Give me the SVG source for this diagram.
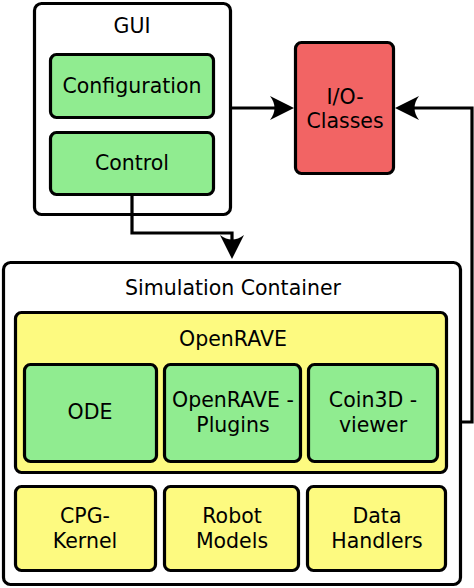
<svg xmlns="http://www.w3.org/2000/svg" width="474" height="588" viewBox="0 0 474 588">
<style>
.box{stroke:#000;stroke-width:3.2}
.w{fill:#fff}
.g{fill:#90ec90}
.y{fill:#fdfa80}
.r{fill:#f26464}
text{font-family:"DejaVu Sans",sans-serif;font-size:20.5px;text-anchor:middle;fill:#000}
.c{fill:none;stroke:#000;stroke-width:3.2}
.ah{fill:#000;stroke:none}
</style>
<defs>
<path id="arrow" d="M0,0 L-24,-12 C-18,-4 -18,4 -24,12 Z"/>
</defs>
<rect width="474" height="588" fill="#fff"/>
<g id="gui">
<rect class="box w" x="34.5" y="3.5" width="196" height="211" rx="7"/>
<text x="132" y="33">GUI</text>
</g>
<g id="configuration">
<rect class="box g" x="50.5" y="54.5" width="163" height="63" rx="6"/>
<text x="132" y="93">Configuration</text>
</g>
<g id="control">
<rect class="box g" x="50.5" y="132.5" width="163" height="62" rx="6"/>
<text x="132" y="170">Control</text>
</g>
<g id="io-classes">
<rect class="box r" x="295.5" y="42.5" width="98" height="131" rx="6"/>
<text x="345" y="104">I/O-</text>
<text x="345" y="128">Classes</text>
</g>
<g id="simulation-container">
<rect class="box w" x="3.5" y="262.5" width="457" height="322" rx="7"/>
<text x="233" y="295">Simulation Container</text>
</g>
<g id="openrave">
<rect class="box y" x="15.5" y="312.5" width="431" height="160" rx="6"/>
<text x="233" y="346">OpenRAVE</text>
</g>
<g id="ode">
<rect class="box g" x="24.5" y="364.5" width="132" height="97" rx="6"/>
<text x="90" y="419">ODE</text>
</g>
<g id="openrave-plugins">
<rect class="box g" x="164.5" y="364.5" width="136" height="97" rx="6"/>
<text x="233" y="407">OpenRAVE -</text>
<text x="233" y="432">Plugins</text>
</g>
<g id="coin3d-viewer">
<rect class="box g" x="308.5" y="364.5" width="129" height="97" rx="6"/>
<text x="373" y="407">Coin3D -</text>
<text x="373" y="432">viewer</text>
</g>
<g id="cpg-kernel">
<rect class="box y" x="15.5" y="486.5" width="140" height="84" rx="6"/>
<text x="85" y="523">CPG-</text>
<text x="85" y="548">Kernel</text>
</g>
<g id="robot-models">
<rect class="box y" x="164.5" y="486.5" width="134" height="84" rx="6"/>
<text x="232" y="523">Robot</text>
<text x="232" y="548">Models</text>
</g>
<g id="data-handlers">
<rect class="box y" x="307.5" y="486.5" width="138" height="84" rx="6"/>
<text x="377" y="523">Data</text>
<text x="377" y="548">Handlers</text>
</g>
<g id="connectors">
<path class="c" d="M230,108 H280"/>
<use href="#arrow" class="ah" transform="translate(294,108)"/>
<path class="c" d="M460,422 H472 V108 H408"/>
<use href="#arrow" class="ah" transform="translate(395,108) rotate(180)"/>
<path class="c" d="M132,194 V233 H232 V245"/>
<use href="#arrow" class="ah" transform="translate(232,259) rotate(90)"/>
</g>
</svg>
